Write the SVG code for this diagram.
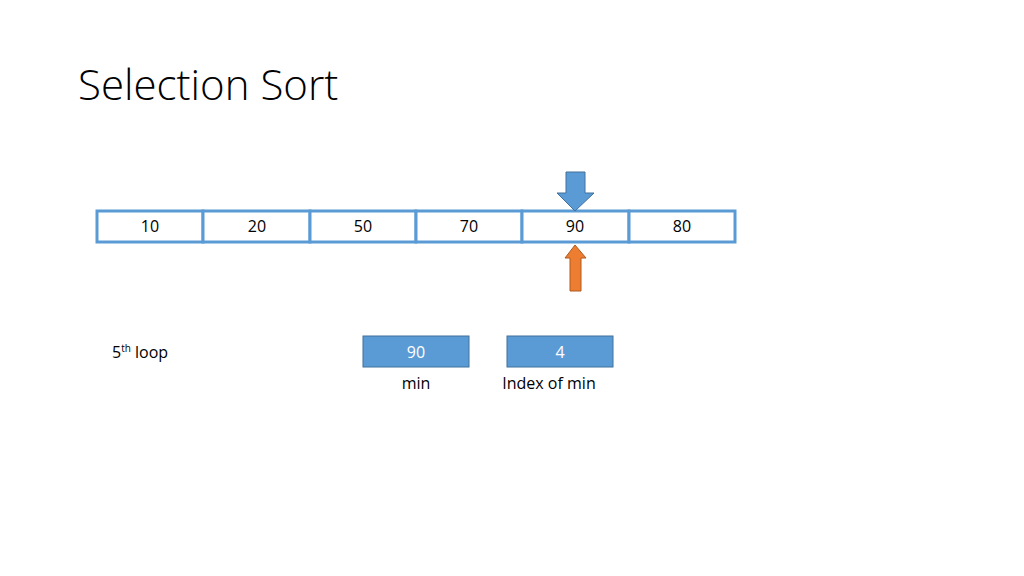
<svg xmlns="http://www.w3.org/2000/svg" width="1024" height="576" viewBox="0 0 1024 576">
<style>
text{font-family:"Open Sans","Liberation Sans",sans-serif;fill:#000}
.cell{fill:#fff;stroke:#5b9bd5;stroke-width:3}
.c{font-size:16px;text-anchor:middle}
.box{fill:#5b9bd5;stroke:#41719c;stroke-width:1}
</style>
<rect width="1024" height="576" fill="#fff"/>
<text x="78" y="100" style="font-size:42px;font-weight:300" font-family="Open Sans">Selection Sort</text>
<g id="array">
<rect class="cell" x="97" y="211" width="106" height="31"/>
<rect class="cell" x="203" y="211" width="107" height="31"/>
<rect class="cell" x="310" y="211" width="106" height="31"/>
<rect class="cell" x="416" y="211" width="106" height="31"/>
<rect class="cell" x="522" y="211" width="107" height="31"/>
<rect class="cell" x="629" y="211" width="106" height="31"/>
<text class="c" x="150" y="232">10</text>
<text class="c" x="257" y="232">20</text>
<text class="c" x="363" y="232">50</text>
<text class="c" x="469" y="232">70</text>
<text class="c" x="575" y="232">90</text>
<text class="c" x="682" y="232">80</text>
</g>
<g id="arrows">
<polygon points="566,172 585,172 585,193 594,193 575,211 557,193 566,193" fill="#5b9bd5" stroke="#41719c"/>
<polygon points="575,245 586,258 581,258 581,291 570,291 570,258 565,258" fill="#ed7d31" stroke="#ae5a21"/>
</g>
<g id="labels">
<text x="112" y="358" style="font-size:16px">5<tspan dy="-6" style="font-size:10px">th</tspan><tspan dy="6"> loop</tspan></text>
</g>
<g id="min">
<rect class="box" x="363" y="336" width="106" height="31"/>
<text class="c" x="416" y="358" style="fill:#fff">90</text>
<text class="c" x="416" y="389">min</text>
</g>
<g id="index">
<rect class="box" x="507" y="336" width="106" height="31"/>
<text class="c" x="560" y="358" style="fill:#fff">4</text>
<text class="c" x="549" y="389">Index of min</text>
</g>
</svg>
